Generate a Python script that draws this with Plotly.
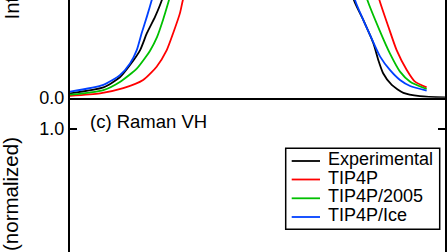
import plotly.graph_objects as go

# ---- data (wavenumber, normalized intensity) ----
series_names = ["Experimental", "TIP4P", "TIP4P/2005", "TIP4P/Ice"]
series_colors = ["#000000", "#ff0000", "#00c000", "#0040ff"]

exp_x = [2900, 2989, 3033, 3060, 3087, 3105, 3127, 3145, 3220, 3412, 3593,
         3657, 3682, 3709, 3722, 3735, 3758, 3789, 3833, 3900, 3950]
exp_y = [0.016, 0.038, 0.075, 0.120, 0.175, 0.237, 0.298, 0.359, 0.727, 1.0, 0.727,
         0.359, 0.286, 0.200, 0.139, 0.090, 0.047, 0.018, 0.006, 0.001, 0.0]

tip4p_x = [2900, 2980, 3042, 3095, 3131, 3158, 3175, 3193, 3201, 3273, 3460, 3652,
           3725, 3749, 3771, 3798, 3820, 3851]
tip4p_y = [0.007, 0.016, 0.035, 0.065, 0.114, 0.175, 0.237, 0.310, 0.359, 0.727, 1.0, 0.727,
           0.359, 0.261, 0.175, 0.102, 0.059, 0.038]

tip2005_x = [2900, 2953, 2989, 3033, 3078, 3100, 3113, 3132, 3148, 3164, 3239, 3433, 3620,
             3693, 3727, 3753, 3780, 3807, 3851]
tip2005_y = [0.011, 0.019, 0.028, 0.058, 0.107, 0.146, 0.172, 0.223, 0.286, 0.359, 0.727, 1.0, 0.727,
             0.359, 0.243, 0.163, 0.096, 0.059, 0.032]

tipice_x = [2900, 2989, 3033, 3060, 3078, 3091, 3105, 3118, 3193, 3407, 3601,
            3660, 3681, 3700, 3727, 3753, 3780, 3807, 3851]
tipice_y = [0.022, 0.047, 0.083, 0.126, 0.175, 0.237, 0.298, 0.359, 0.727, 1.0, 0.727,
            0.359, 0.289, 0.231, 0.151, 0.102, 0.065, 0.043, 0.026]

xs = [exp_x, tip4p_x, tip2005_x, tipice_x]
ys = [exp_y, tip4p_y, tip2005_y, tipice_y]

panel_c_label = "(c) Raman VH"
y_title = "Intensity (normalized)"

FONT = "Liberation Sans, Arial, Helvetica, sans-serif"
FS = 18
W, H = 448, 252
L, R = 70, 3
split = 1 - 97.7 / H

def px_x(p):
    return (p - L) / (W - L - R)

def px_y(p):
    return 1 - p / H

fig = go.Figure()
for name, col, x, y in zip(series_names, series_colors, xs, ys):
    fig.add_trace(go.Scatter(x=x, y=y, name=name, mode="lines",
                             line=dict(color=col, width=1.8, shape="spline", smoothing=0.6),
                             xaxis="x", yaxis="y", showlegend=False))
# empty trace so that panel (c) axes are drawn
fig.add_trace(go.Scatter(x=[], y=[], mode="lines", xaxis="x2", yaxis="y2",
                         showlegend=False, hoverinfo="skip"))

axis_common = dict(showgrid=False, zeroline=False, linecolor="black", linewidth=2,
                   tickcolor="black", tickwidth=2, ticklen=7, ticks="inside",
                   automargin=False,
                   tickfont=dict(family=FONT, size=FS, color="black"))

fig.update_layout(
    width=W, height=H,
    margin=dict(l=L, r=R, t=0, b=0, autoexpand=False),
    paper_bgcolor="white", plot_bgcolor="white",
    showlegend=False,
    font=dict(family=FONT, size=FS, color="black"),
    xaxis=dict(domain=[0, 1], anchor="y", range=[2900, 3900], showline=True,
               showticklabels=False, ticks="", showgrid=False, zeroline=False,
               linecolor="black", linewidth=2, automargin=False),
    yaxis=dict(domain=[split, 1], anchor="x", range=[0, 97.7 / 272], showline=True,
               mirror=True, tickvals=[0.0], ticktext=["0.0"], **axis_common),
    xaxis2=dict(domain=[0, 1], anchor="y2", range=[2900, 3900], showline=False,
                showticklabels=False, ticks="", showgrid=False, zeroline=False,
                automargin=False),
    yaxis2=dict(domain=[0, split], anchor="x2", range=[1.114 - 154.3 / 272, 1.114],
                showline=True, mirror="ticks", tickvals=[1.0], ticktext=["1.0"],
                **axis_common),
)

YT = 20.5
# panel label and y titles
anns = [
    dict(text=panel_c_label, x=px_x(88), y=px_y(121.5), xanchor="left", yanchor="middle",
         font=dict(family=FONT, size=18.5, color="black")),
    dict(text=y_title, textangle=-90, x=px_x(10.5), y=px_y(22), xanchor="center", yanchor="bottom",
         font=dict(family=FONT, size=YT, color="black")),
    dict(text=y_title, textangle=-90, x=px_x(10.5), y=px_y(135.5), xanchor="center", yanchor="top",
         font=dict(family=FONT, size=YT, color="black")),
]

# legend (drawn manually to match the compact row spacing)
rows = [161, 179.5, 198.3, 217]
shapes = [dict(type="rect", xref="paper", yref="paper",
               x0=px_x(285.7), x1=px_x(439.7), y0=px_y(229.3), y1=px_y(148.3),
               line=dict(color="black", width=1.5), fillcolor="white", layer="above")]
for name, col, ry in zip(series_names, series_colors, rows):
    shapes.append(dict(type="line", xref="paper", yref="paper",
                       x0=px_x(291.7), x1=px_x(320), y0=px_y(ry), y1=px_y(ry),
                       line=dict(color=col, width=1.8), layer="above"))
    anns.append(dict(text=name, x=px_x(326.5), y=px_y(ry - 2), xanchor="left", yanchor="middle",
                     borderpad=0, font=dict(family=FONT, size=FS, color="black")))

for a in anns:
    a.update(xref="paper", yref="paper", showarrow=False)

fig.update_layout(annotations=anns, shapes=shapes)
fig.write_html("out.html", config={"displayModeBar": False},
               post_script="document.body.style.margin='0';document.body.style.overflow='hidden';")
